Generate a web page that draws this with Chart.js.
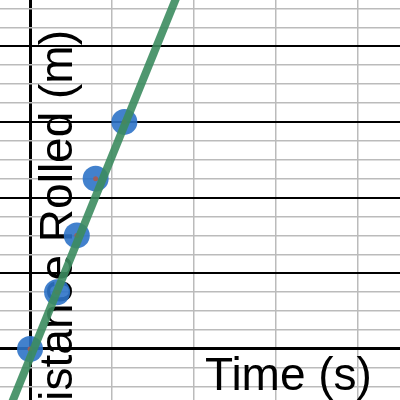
<!DOCTYPE html>
<html>
<head>
<meta charset="utf-8">
<script src="https://cdn.jsdelivr.net/npm/chart.js@4"></script>
<style>
  html, body { margin: 0; padding: 0; background: #fff; }
  #wrap { width: 400px; height: 400px; }
</style>
</head>
<body>
<div id="wrap"><canvas id="chart"></canvas></div>
<script>
// Dados medidos
const timeValues = [0, 0.33, 0.57, 0.8, 1.15];
const distanceValues = [0, 0.75, 1.5, 2.25, 3];
// Reta de ajuste (extremos fora da área visível)
const fitX = [-0.3, 1.9];
const fitY = [-0.12 + 2.67 * -0.3, -0.12 + 2.67 * 1.9];
// Linhas de grade
const xGridValues = [0, 1, 2, 3, 4];
const yGridValues = [];
for (let v = -0.5; v <= 4.5; v += 0.25) yGridValues.push(v);

const xTitle = "Time (s)";
const yTitle = "Distance Rolled (m)";

const points = timeValues.map((x, i) => ({ x: x, y: distanceValues[i] }));
const fitPoints = fitX.map((x, i) => ({ x: x, y: fitY[i] }));

// Títulos desenhados dentro da área do gráfico
const titlesPlugin = {
  id: "titles",
  beforeDatasetsDraw(chart) {
    const ctx = chart.ctx;
    ctx.save();
    ctx.fillStyle = "#000";
    ctx.font = "46px 'Liberation Sans', Arial, sans-serif";
    ctx.textBaseline = "alphabetic";
    ctx.textAlign = "left";
    ctx.fillText(xTitle, 205, 390);
    ctx.translate(72, 30);
    ctx.rotate(-Math.PI / 2);
    ctx.textAlign = "right";
    ctx.fillText(yTitle, 0, 0);
    ctx.restore();
  },
};

const noSpace = (scale) => {
  scale.width = 0;
  scale.height = 0;
};

new Chart(document.getElementById("chart"), {
  type: "scatter",
  data: {
    datasets: [
      {
        type: "line",
        data: fitPoints,
        borderColor: "rgba(60,140,95,0.9)",
        borderWidth: 8,
        pointRadius: 0,
        fill: false,
      },
      {
        data: points,
        backgroundColor: "rgba(170,90,80,0.9)",
        pointRadius: 2.5,
        borderWidth: 0,
      },
      {
        data: points,
        backgroundColor: "rgba(45,115,200,0.9)",
        pointRadius: 13,
        borderWidth: 0,
      },
    ],
  },
  options: {
    responsive: true,
    maintainAspectRatio: false,
    animation: false,
    layout: { padding: 0, autoPadding: false },
    plugins: { legend: { display: false }, tooltip: { enabled: false } },
    scales: {
      x: {
        type: "linear",
        min: -0.366,
        max: 4.51,
        afterBuildTicks: (scale) => {
          scale.ticks = xGridValues.map((v) => ({ value: v }));
        },
        afterFit: noSpace,
        ticks: { display: false, padding: 0 },
        border: { display: false },
        grid: {
          drawTicks: false,
          tickLength: 0,
          color: (c) => (c.tick && c.tick.value === 0 ? "#000" : "#bbb"),
          lineWidth: (c) => (c.tick && c.tick.value === 0 ? 3 : 1.5),
        },
      },
      y: {
        type: "linear",
        min: -0.674,
        max: 4.61,
        afterBuildTicks: (scale) => {
          scale.ticks = yGridValues.map((v) => ({ value: v }));
        },
        afterFit: noSpace,
        ticks: { display: false, padding: 0 },
        border: { display: false },
        grid: {
          drawTicks: false,
          tickLength: 0,
          color: (c) =>
            c.tick && Math.abs(c.tick.value % 1) < 1e-6 ? "#000" : "#bbb",
          lineWidth: (c) => {
            if (!c.tick) return 1;
            if (c.tick.value === 0) return 3;
            return Math.abs(c.tick.value % 1) < 1e-6 ? 2 : 1.5;
          },
        },
      },
    },
  },
  plugins: [titlesPlugin],
});
</script>
</body>
</html>
